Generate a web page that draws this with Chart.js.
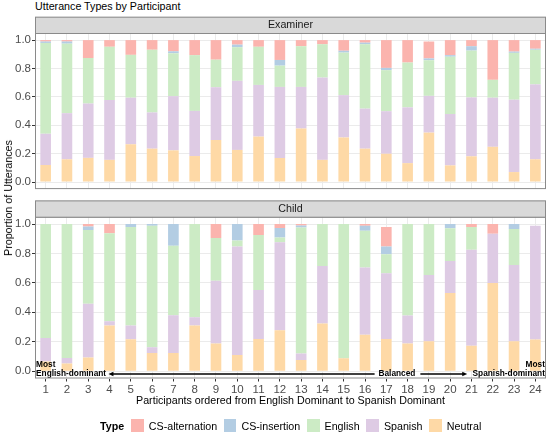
<!DOCTYPE html>
<html>
<head>
<meta charset="utf-8">
<script src="https://cdn.jsdelivr.net/npm/chart.js@4/dist/chart.umd.min.js"></script>
<style>
  body { margin: 0; background: #fff; font-family: "Liberation Sans", Arial, sans-serif; }
  #wrap { position: relative; width: 550px; height: 434px; overflow: hidden; }
  canvas { position: absolute; left: 0; }
  #title { position: absolute; left: 35px; top: 0px; font-size: 10.7px; color: #000; white-space: nowrap; }
  #ytitle { position: absolute; left: 8px; top: 198px; font-size: 10.7px; color: #000; white-space: nowrap;
            transform: translate(-50%, -50%) rotate(-90deg); }
  #xtitle { position: absolute; left: 290.5px; top: 400px; font-size: 10.7px; color: #000; white-space: nowrap;
            transform: translate(-50%, -50%); }
  #legend { position: absolute; left: 100px; top: 419px; height: 13px; display: flex; align-items: center;
            font-size: 10.7px; color: #000; white-space: nowrap; }
  #legend b { margin-right: 7px; }
  #legend .key { width: 12.7px; height: 12.7px; margin-right: 5px; }
  #legend .lab { margin-right: 6.6px; }
</style>
</head>
<body>
<div id="wrap">
  <div id="title">Utterance Types by Participant</div>
  <canvas id="examiner" width="550" height="197" style="top:0px"></canvas>
  <canvas id="child" width="550" height="200" style="top:197px"></canvas>
  <div id="ytitle">Proportion of Utterances</div>
  <div id="xtitle">Participants ordered from English Dominant to Spanish Dominant</div>
  <div id="legend"><b>Type</b></div>
</div>
<script>
// participants, ordered from English dominant to Spanish dominant
const participants = ['1', '2', '3', '4', '5', '6', '7', '8', '9', '10', '11', '12',
  '13', '14', '15', '16', '17', '18', '19', '20', '21', '22', '23', '24'];

// legend order
const typeNames = ['CS-alternation', 'CS-insertion', 'English', 'Spanish', 'Neutral'];
const typeColors = ['#FBB4AE', '#B3CDE3', '#CCEBC5', '#DECBE4', '#FED9A6'];

// Examiner proportions
const examNeutral = [0.12, 0.16, 0.17, 0.156, 0.266, 0.235, 0.223, 0.183, 0.296, 0.226, 0.32, 0.169,
  0.377, 0.156, 0.314, 0.235, 0.199, 0.133, 0.348, 0.117, 0.181, 0.248, 0.07, 0.16];
const examSpanish = [0.22, 0.325, 0.383, 0.422, 0.328, 0.255, 0.382, 0.318, 0.372, 0.487, 0.364, 0.501,
  0.293, 0.58, 0.298, 0.282, 0.30, 0.393, 0.259, 0.362, 0.415, 0.346, 0.51, 0.528];
const examEnglish = [0.64, 0.49, 0.321, 0.375, 0.302, 0.442, 0.302, 0.393, 0.194, 0.237, 0.269, 0.15,
  0.287, 0.235, 0.30, 0.454, 0.289, 0.316, 0.251, 0.404, 0.33, 0.126, 0.33, 0.244];
const examInsertion = [0.01, 0.015, 0, 0, 0, 0, 0.014, 0, 0, 0.018, 0, 0.04,
  0, 0, 0.013, 0.011, 0.016, 0, 0.013, 0.011, 0.031, 0, 0.009, 0.007];
const examAlternation = [0.01, 0.01, 0.126, 0.047, 0.104, 0.068, 0.079, 0.106, 0.138, 0.032, 0.047, 0.14,
  0.043, 0.029, 0.075, 0.018, 0.196, 0.158, 0.119, 0.106, 0.043, 0.28, 0.081, 0.061];

// Child proportions
const childNeutral = [0.066, 0.052, 0.093, 0.31, 0.217, 0.124, 0.124, 0.31, 0.188, 0.109, 0.219, 0.278,
  0.075, 0.324, 0.088, 0.247, 0.219, 0.188, 0.204, 0.532, 0.172, 0.60, 0.204, 0.215];
const childSpanish = [0.16, 0.038, 0.366, 0.029, 0.093, 0.039, 0.256, 0.057, 0.427, 0.739, 0.333, 0.598,
  0.045, 0.391, 0, 0.457, 0.446, 0.19, 0.45, 0.217, 0.654, 0.334, 0.518, 0.774];
const childEnglish = [0.774, 0.91, 0.501, 0.598, 0.67, 0.826, 0.473, 0.633, 0.29, 0.041, 0.373, 0.033,
  0.857, 0.285, 0.912, 0.251, 0.129, 0.622, 0.346, 0.222, 0.154, 0, 0.244, 0];
const childInsertion = [0, 0, 0.024, 0, 0.02, 0.011, 0.147, 0, 0, 0.111, 0, 0.064,
  0.014, 0, 0, 0.034, 0.054, 0, 0, 0.029, 0, 0, 0.034, 0];
const childAlternation = [0, 0, 0.016, 0.063, 0, 0, 0, 0, 0.095, 0, 0.075, 0.027,
  0.009, 0, 0, 0.011, 0.132, 0, 0, 0, 0.02, 0.066, 0, 0];

const yTicks = [0, 0.1, 0.2, 0.3, 0.4, 0.5, 0.6, 0.7, 0.8, 0.9, 1.0];

Chart.defaults.font.family = '"Liberation Sans", Arial, sans-serif';

// stacked bottom -> top: Neutral, Spanish, English, CS-insertion, CS-alternation
function makeDatasets(neutral, spanish, english, insertion, alternation) {
  let series = [alternation, insertion, english, spanish, neutral];
  let sets = [];
  for (let i = series.length - 1; i >= 0; i--) {
    sets.push({
      label: typeNames[i],
      data: series[i],
      backgroundColor: typeColors[i],
      borderWidth: 0,
      barPercentage: 0.5,
      categoryPercentage: 1
    });
  }
  return sets;
}

let isMajor = (v) => Math.round(v * 10) % 2 === 0;

// panel border + facet strip
const panelPlugin = {
  id: 'panel',
  afterDraw(chart, args, opts) {
    let { ctx, chartArea: a } = chart;
    ctx.save();
    ctx.strokeStyle = '#8A8A8A';
    ctx.lineWidth = 1;
    ctx.strokeRect(a.left + 0.5, a.top + 0.5, a.right - a.left - 1, a.bottom - a.top - 1);
    let h = 16.3;
    ctx.fillStyle = '#D9D9D9';
    ctx.fillRect(a.left, a.top - h, a.right - a.left, h);
    ctx.strokeRect(a.left + 0.5, a.top - h + 0.5, a.right - a.left - 1, h);
    ctx.fillStyle = '#1A1A1A';
    ctx.font = '10.7px "Liberation Sans", Arial, sans-serif';
    ctx.textAlign = 'center';
    ctx.textBaseline = 'middle';
    ctx.fillText(opts.label, (a.left + a.right) / 2, a.top - h / 2 + 0.5);
    ctx.restore();
  }
};

function drawArrow(ctx, x1, x2, y) {
  let dir = x2 > x1 ? 1 : -1;
  ctx.beginPath();
  ctx.moveTo(x1, y);
  ctx.lineTo(x2 - dir * 4, y);
  ctx.stroke();
  ctx.beginPath();
  ctx.moveTo(x2, y);
  ctx.lineTo(x2 - dir * 5, y - 2.3);
  ctx.lineTo(x2 - dir * 5, y + 2.3);
  ctx.closePath();
  ctx.fill();
}

// dominance annotation along the bottom of the Child panel
const dominancePlugin = {
  id: 'dominance',
  afterDatasetsDraw(chart) {
    let { ctx } = chart;
    let x = chart.scales.x, y = chart.scales.y;
    let rowY = y.getPixelForValue(-0.019);
    let topY = y.getPixelForValue(0.047);
    ctx.save();
    ctx.fillStyle = '#000';
    ctx.strokeStyle = '#000';
    ctx.lineWidth = 1.6;
    ctx.font = 'bold 8.3px "Liberation Sans", Arial, sans-serif';
    ctx.textBaseline = 'middle';
    ctx.textAlign = 'left';
    ctx.fillText('Most', x.getPixelForValue(-0.45), topY);
    ctx.fillText('English-dominant', x.getPixelForValue(-0.45), rowY);
    ctx.textAlign = 'center';
    ctx.fillText('Balanced', x.getPixelForValue(16.5), rowY);
    ctx.textAlign = 'right';
    ctx.fillText('Most', x.getPixelForValue(23.45), topY);
    ctx.fillText('Spanish-dominant', x.getPixelForValue(23.45), rowY);
    drawArrow(ctx, x.getPixelForValue(15.45), x.getPixelForValue(2.95), rowY);
    drawArrow(ctx, x.getPixelForValue(17.6), x.getPixelForValue(19.8), rowY);
    ctx.restore();
  }
};

function makeOptions(label, showX, padTop) {
  return {
    responsive: false,
    animation: false,
    layout: { padding: { top: padTop, right: 4, bottom: showX ? 0 : 2, left: 0 } },
    plugins: {
      legend: { display: false },
      tooltip: { enabled: false },
      panel: { label: label }
    },
    scales: {
      x: {
        stacked: true,
        offset: true,
        border: { display: false },
        grid: {
          offset: false,
          color: '#EBEBEB',
          drawTicks: showX,
          tickLength: 3,
          tickColor: '#333333'
        },
        ticks: {
          display: showX,
          autoSkip: false,
          maxRotation: 0,
          padding: 1,
          color: '#4D4D4D',
          font: { size: 11.5 }
        },
        afterFit: (s) => { s.height = showX ? 18.5 : 0; }
      },
      y: {
        stacked: true,
        min: -0.05,
        max: 1.05,
        border: { display: false },
        afterBuildTicks: (s) => { s.ticks = yTicks.map((v) => ({ value: v })); },
        afterFit: (s) => { s.width = 35; },
        grid: {
          color: (c) => (c.tick && isMajor(c.tick.value)) ? '#EBEBEB' : '#F4F4F4',
          tickColor: (c) => (c.tick && isMajor(c.tick.value)) ? '#333333' : 'rgba(0,0,0,0)',
          tickLength: 3
        },
        ticks: {
          padding: 1,
          color: '#4D4D4D',
          font: { size: 11.5 },
          callback: (v) => isMajor(v) ? v.toFixed(1) : ''
        }
      }
    }
  };
}

new Chart('examiner', {
  type: 'bar',
  data: {
    labels: participants,
    datasets: makeDatasets(examNeutral, examSpanish, examEnglish, examInsertion, examAlternation)
  },
  options: makeOptions('Examiner', false, 33),
  plugins: [panelPlugin]
});

new Chart('child', {
  type: 'bar',
  data: {
    labels: participants,
    datasets: makeDatasets(childNeutral, childSpanish, childEnglish, childInsertion, childAlternation)
  },
  options: makeOptions('Child', true, 19.7),
  plugins: [panelPlugin, dominancePlugin]
});

// legend keys
let legendEl = document.getElementById('legend');
typeNames.forEach(function (name, i) {
  let key = document.createElement('span');
  key.className = 'key';
  key.style.background = typeColors[i];
  let lab = document.createElement('span');
  lab.className = 'lab';
  lab.textContent = name;
  legendEl.appendChild(key);
  legendEl.appendChild(lab);
});
</script>
</body>
</html>
